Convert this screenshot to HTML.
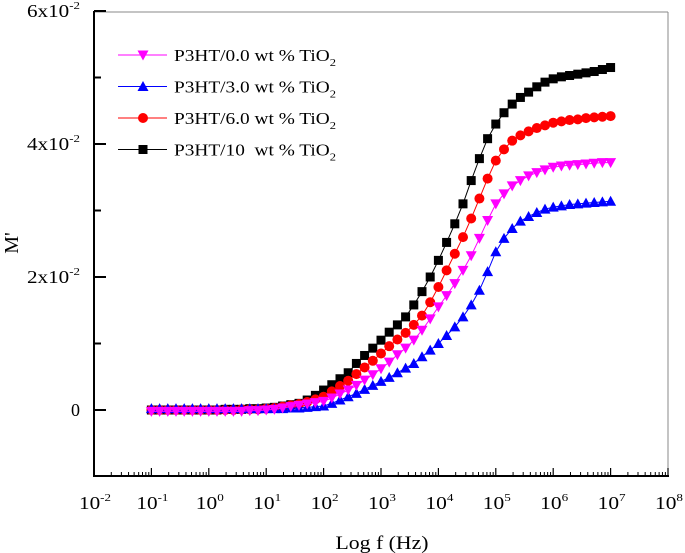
<!DOCTYPE html>
<html><head><meta charset="utf-8"><style>
body{margin:0;background:#fff}
svg{display:block;font-family:"Liberation Serif",serif}
</style></head><body>
<svg id="chart" width="685" height="553">
<g id="marks"></g>
<g id="axes"></g>
<g id="legend"></g>
</svg>
<script>
const logStart=-1, pointsPerDecade=7;
const xTickLabels=["-2","-1","0","1","2","3","4","5","6","7","8"];
const yTickValues=[0,2,4,6];
const yTickLabels=["0","2x10","4x10","6x10"];
const seriesNames=["P3HT/0.0 wt % TiO","P3HT/3.0 wt % TiO","P3HT/6.0 wt % TiO","P3HT/10\u00a0\u00a0wt % TiO"];
const black=[0,0,0,0,0,0,0,0,0,0.01,0.01,0.01,0.02,0.02,0.03,0.04,0.06,0.08,0.1,0.15,0.22,0.3,0.38,0.47,0.56,0.7,0.82,0.93,1.05,1.17,1.28,1.4,1.58,1.78,2.0,2.25,2.52,2.8,3.1,3.45,3.78,4.08,4.3,4.47,4.6,4.7,4.78,4.86,4.93,4.98,5.01,5.03,5.05,5.07,5.09,5.12,5.15];
const red=[0,0,0,0,0,0,0,0,0,0,0,0.01,0.01,0.01,0.02,0.03,0.05,0.07,0.09,0.12,0.16,0.2,0.28,0.36,0.44,0.54,0.64,0.74,0.85,0.96,1.06,1.16,1.28,1.42,1.62,1.85,2.1,2.35,2.6,2.88,3.18,3.48,3.75,3.92,4.05,4.13,4.19,4.24,4.28,4.32,4.34,4.36,4.37,4.39,4.4,4.41,4.42];
const magenta=[-0.02,-0.02,-0.02,-0.02,-0.02,-0.02,-0.02,-0.02,-0.02,-0.02,-0.02,-0.02,-0.01,-0.01,0,0.01,0.03,0.05,0.07,0.09,0.11,0.13,0.18,0.24,0.3,0.37,0.45,0.53,0.62,0.72,0.83,0.93,1.05,1.2,1.37,1.55,1.72,1.9,2.1,2.32,2.58,2.85,3.1,3.25,3.37,3.45,3.52,3.57,3.61,3.65,3.67,3.68,3.69,3.7,3.71,3.72,3.72];
const blue=[0.02,0.02,0.02,0.02,0.02,0.02,0.02,0.02,0.02,0.02,0.02,0.02,0.02,0.02,0.02,0.02,0.02,0.03,0.03,0.04,0.05,0.06,0.1,0.15,0.2,0.25,0.31,0.37,0.43,0.49,0.56,0.63,0.7,0.8,0.9,1.0,1.12,1.25,1.4,1.58,1.8,2.08,2.38,2.58,2.73,2.84,2.91,2.97,3.02,3.05,3.07,3.09,3.1,3.11,3.12,3.13,3.14];

const NS="http://www.w3.org/2000/svg";
const L=94,R=668,T=12,B=476;
const X=lg=>L+(lg+2)*(R-L)/10;
const Y=v=>410-v*66.5;
function mk(tag,attrs,parent){const e=document.createElementNS(NS,tag);for(const k in attrs)e.setAttribute(k,attrs[k]);parent.appendChild(e);return e;}
const marks=document.getElementById('marks'),axes=document.getElementById('axes'),leg=document.getElementById('legend');

function marker(type,cx,cy,color,g){
  let e;
  if(type==='sq')e=mk('rect',{x:cx-4.5,y:cy-4.5,width:9,height:9,fill:color},g);
  else if(type==='ci')e=mk('circle',{cx:cx,cy:cy,r:5,fill:color},g);
  else if(type==='up')e=mk('polygon',{points:`${cx-5.5},${cy+4.5} ${cx+5.5},${cy+4.5} ${cx},${cy-5.5}`,fill:color},g);
  else e=mk('polygon',{points:`${cx-5.5},${cy-4.5} ${cx+5.5},${cy-4.5} ${cx},${cy+5.5}`,fill:color},g);
  return e;
}
const series=[
 {vals:black,color:'#000',line:'#000',m:'sq',name:'series-10wt'},
 {vals:red,color:'#f00',line:'#f00',m:'ci',name:'series-6wt'},
 {vals:blue,color:'#00f',line:'#00f',m:'up',name:'series-3wt'},
 {vals:magenta,color:'#f0f',line:'#f0f',m:'dn',name:'series-0wt'}];
series.forEach(s=>{
  const g=mk('g',{},marks);
  
  
  const pts=s.vals.map((v,i)=>[X(logStart+i/pointsPerDecade),Y(v)]);
  const pl=mk('polyline',{points:pts.map(p=>p.join(',')).join(' '),fill:'none',stroke:s.line,'stroke-width':1},g);
  
  
  pts.forEach(p=>{const e=marker(s.m,p[0],p[1],s.color,g);
    
    });
});

// frame
mk('line',{x1:L,y1:T,x2:R,y2:T,stroke:'#888','stroke-width':1},axes);
mk('line',{x1:R,y1:T,x2:R,y2:B,stroke:'#888','stroke-width':1},axes);
const ya=mk('line',{x1:L,y1:T-1,x2:L,y2:B+1,stroke:'#000','stroke-width':2},axes);


const xa=mk('line',{x1:L-1,y1:B,x2:R+1,y2:B,stroke:'#000','stroke-width':2},axes);


// x ticks
xTickLabels.forEach((lab,i)=>{
  const lg=+lab,x=X(lg);
  mk('line',{x1:x,y1:B,x2:x,y2:B-8,stroke:'#000','stroke-width':1.2},axes);
  if(i<xTickLabels.length-1)for(let k=2;k<10;k++){const xm=X(lg+Math.log10(k));mk('line',{x1:xm,y1:B,x2:xm,y2:B-4,stroke:'#000','stroke-width':1},axes);}
  const t=mk('text',{x:x+1,y:509,'text-anchor':'middle','font-size':18,textLength:lab.length>1?32:28,lengthAdjust:'spacingAndGlyphs'},axes);
  
  
  t.textContent='10';
  const s=mk('tspan',{dy:-8,'font-size':11},t);s.textContent=lab;
});
// y ticks
yTickValues.forEach((v,i)=>{
  const y=Y(v);
  mk('line',{x1:L,y1:y,x2:L+12,y2:y,stroke:'#000','stroke-width':2},axes);
  if(v<6)mk('line',{x1:L,y1:Y(v+1),x2:L+7,y2:Y(v+1),stroke:'#000','stroke-width':2},axes);
  const t=mk('text',{x:v===0?80:80,y:y+6,'text-anchor':'end','font-size':18},axes);
  if(v!==0){t.setAttribute('textLength',53);t.setAttribute('lengthAdjust','spacingAndGlyphs');}
  
  
  t.textContent=yTickLabels[i];
  if(v!==0){const s=mk('tspan',{dy:-8,'font-size':11},t);s.textContent='-2';}
});
const xt=mk('text',{x:382,y:549,'text-anchor':'middle','font-size':19,textLength:93,lengthAdjust:'spacingAndGlyphs'},axes);


xt.textContent='Log f (Hz)';
const yt=mk('text',{x:0,y:0,'text-anchor':'middle','font-size':20,transform:'translate(18,243) rotate(-90)'},axes);


yt.textContent="M'";
// legend
const legItems=[{c:'#f0f',m:'dn'},{c:'#00f',m:'up'},{c:'#f00',m:'ci'},{c:'#000',m:'sq'}];
legItems.forEach((it,i)=>{
  const y=55+i*31.5;
  const g=mk('g',{},leg);
  
  
  mk('line',{x1:118,y1:y,x2:167,y2:y,stroke:it.c,'stroke-width':1},g);
  marker(it.m,143,y,it.c,g);
  const t=mk('text',{x:174,y:y+6,'font-size':17,textLength:162,lengthAdjust:'spacingAndGlyphs'},g);
  t.textContent=seriesNames[i];
  const s=mk('tspan',{dy:5,'font-size':11},t);s.textContent='2';
});
</script>
</body></html>
